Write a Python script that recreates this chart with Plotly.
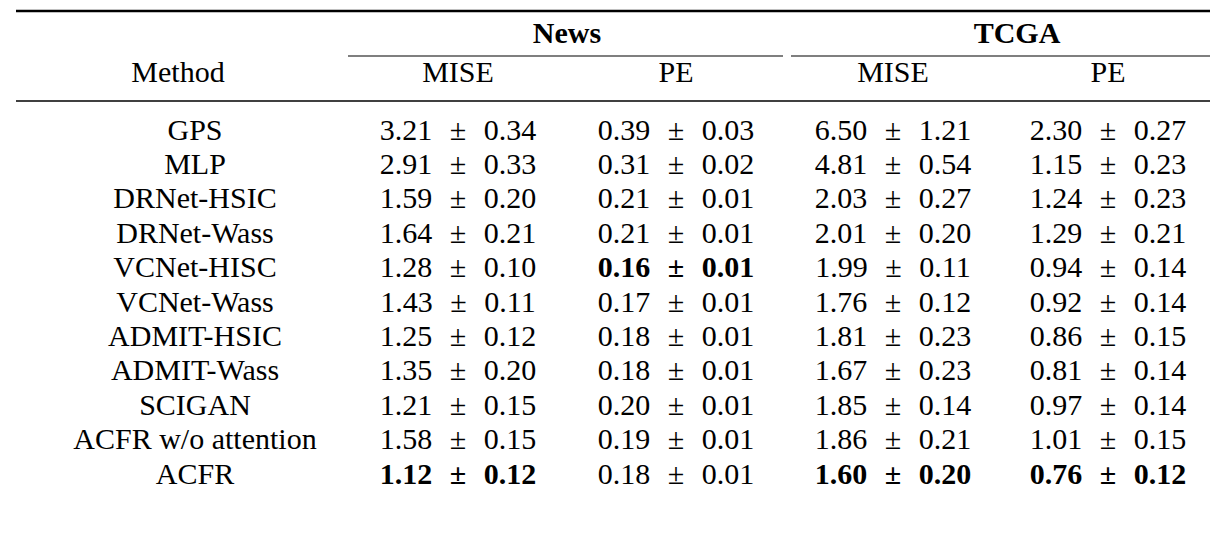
import plotly.graph_objects as go

methods = ["GPS","MLP","DRNet-HSIC","DRNet-Wass","VCNet-HISC","VCNet-Wass","ADMIT-HSIC","ADMIT-Wass","SCIGAN","ACFR w/o attention","ACFR"]
news_mise = ["3.21 ± 0.34","2.91 ± 0.33","1.59 ± 0.20","1.64 ± 0.21","1.28 ± 0.10","1.43 ± 0.11","1.25 ± 0.12","1.35 ± 0.20","1.21 ± 0.15","1.58 ± 0.15","1.12 ± 0.12"]
news_pe = ["0.39 ± 0.03","0.31 ± 0.02","0.21 ± 0.01","0.21 ± 0.01","0.16 ± 0.01","0.17 ± 0.01","0.18 ± 0.01","0.18 ± 0.01","0.20 ± 0.01","0.19 ± 0.01","0.18 ± 0.01"]
tcga_mise = ["6.50 ± 1.21","4.81 ± 0.54","2.03 ± 0.27","2.01 ± 0.20","1.99 ± 0.11","1.76 ± 0.12","1.81 ± 0.23","1.67 ± 0.23","1.85 ± 0.14","1.86 ± 0.21","1.60 ± 0.20"]
tcga_pe = ["2.30 ± 0.27","1.15 ± 0.23","1.24 ± 0.23","1.29 ± 0.21","0.94 ± 0.14","0.92 ± 0.14","0.86 ± 0.15","0.81 ± 0.14","0.97 ± 0.14","1.01 ± 0.15","0.76 ± 0.12"]
bold = {(4, 2), (10, 1), (10, 3), (10, 4)}
groups = ["News", "TCGA"]
subheaders = ["Method", "MISE", "PE", "MISE", "PE"]

colx = [187, 450, 668, 885, 1100]
row0, dy = 124, 34.4
cols = [methods, news_mise, news_pe, tcga_mise, tcga_pe]
font = dict(family="Liberation Serif", size=30, color="black")

def fmt(v):
    return v.replace(" ± ", "\u2002\u200a±\u2002\u200a")

fig = go.Figure()
xs, ys, ts = [], [], []
for c, col in enumerate(cols):
    for r, v in enumerate(col):
        v = fmt(v)
        xs.append(colx[c]); ys.append(row0 + r * dy)
        ts.append(f"<b>{v}</b>" if (r, c) in bold else v)
for c, h in enumerate(subheaders):
    xs.append(colx[c] if c else 170); ys.append(66); ts.append(h)
for g, x in zip(groups, [559, 1009]):
    xs.append(x); ys.append(27); ts.append(f"<b>{g}</b>")
fig.add_trace(go.Scatter(x=xs, y=ys, text=ts, mode="text", textfont=font, hoverinfo="skip"))

lines = [(8, 1210, 3, 2.5), (8, 1210, 93, 1.3), (8, 1210, 532, 2.5), (340, 775, 48, 1.2), (783, 1210, 48, 1.2)]
for x0, x1, y, w in lines:
    fig.add_shape(type="line", x0=x0, x1=x1, y0=y, y1=y, line=dict(color="black", width=w))

fig.update_layout(width=1218, height=537, margin=dict(l=0, r=0, t=0, b=0),
                  plot_bgcolor="white", paper_bgcolor="white", showlegend=False,
                  xaxis=dict(range=[0, 1218], visible=False, fixedrange=True),
                  yaxis=dict(range=[537, 0], visible=False, fixedrange=True))
fig.write_html("out.html")
